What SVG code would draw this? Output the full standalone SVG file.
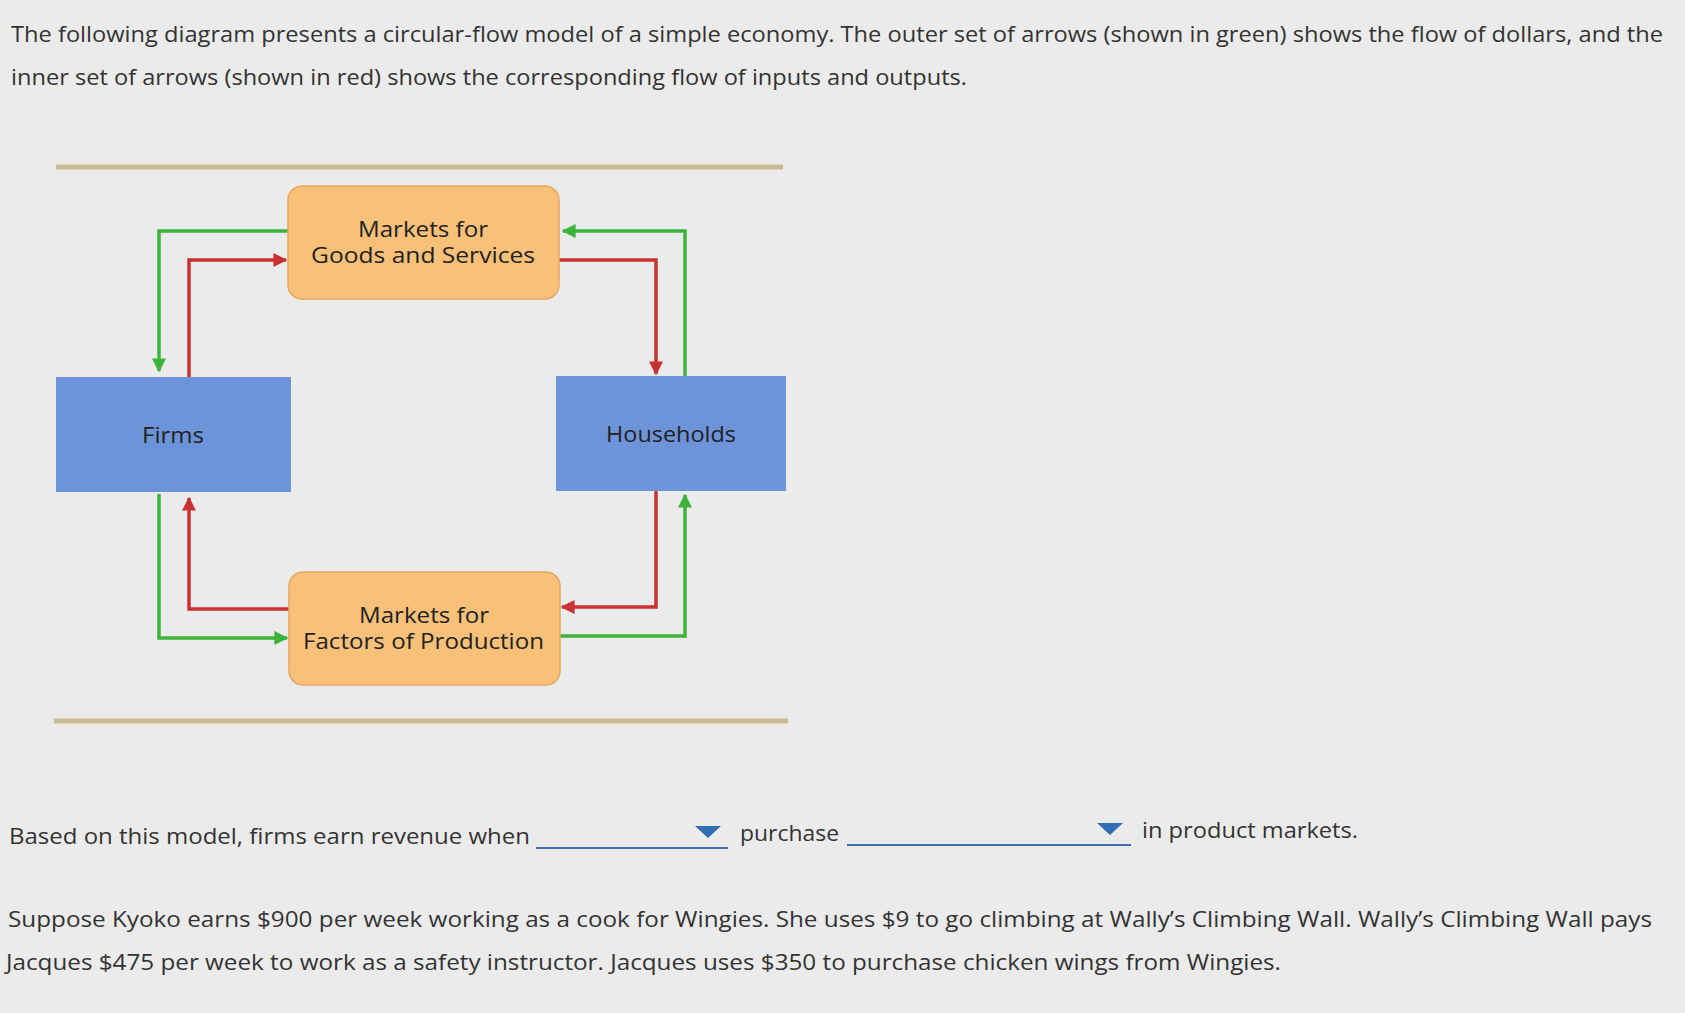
<svg xmlns="http://www.w3.org/2000/svg" width="1685" height="1013" viewBox="0 0 1685 1013">
<style>
text{font-family:"Open Sans","Liberation Sans",sans-serif;fill:#333}
.p{font-size:21px}
.b{font-size:21px;fill:#222}
.g{fill:none;stroke:#3cb43c;stroke-width:3.5}
.r{fill:none;stroke:#c83232;stroke-width:3.5}
.box{fill:#f8c078;stroke:#e8a860;stroke-width:1.5}
.blue{fill:#6d93d8}
.rule{stroke:#c8bc96;stroke-width:5}
.ul{stroke:#3b6fb0;stroke-width:2}
</style>
<defs>
<marker id="ag" viewBox="0 0 10 10" refX="9" refY="5" markerWidth="4" markerHeight="4" orient="auto"><path d="M0,0L10,5L0,10z" fill="#3cb43c"/></marker>
<marker id="ar" viewBox="0 0 10 10" refX="9" refY="5" markerWidth="4" markerHeight="4" orient="auto"><path d="M0,0L10,5L0,10z" fill="#c83232"/></marker>
</defs>
<rect width="1685" height="1013" fill="#ebebeb"/>
<text class="p" x="11" y="42" textLength="1652" lengthAdjust="spacingAndGlyphs">The following diagram presents a circular-flow model of a simple economy. The outer set of arrows (shown in green) shows the flow of dollars, and the</text>
<text class="p" x="11" y="85" textLength="956" lengthAdjust="spacingAndGlyphs">inner set of arrows (shown in red) shows the corresponding flow of inputs and outputs.</text>
<line class="rule" x1="56" y1="167" x2="783" y2="167"/>
<line class="rule" x1="54" y1="721" x2="788" y2="721"/>
<g id="connectors">
<path class="g" d="M288,231H159V371" marker-end="url(#ag)"/>
<path class="r" d="M189,377V260H286" marker-end="url(#ar)"/>
<path class="g" d="M685,376V231H563" marker-end="url(#ag)"/>
<path class="r" d="M559,260H656V374" marker-end="url(#ar)"/>
<path class="g" d="M159,494V638H287" marker-end="url(#ag)"/>
<path class="r" d="M289,609H189V498" marker-end="url(#ar)"/>
<path class="r" d="M656,491V607H562" marker-end="url(#ar)"/>
<path class="g" d="M560,636H685V495" marker-end="url(#ag)"/>
</g>
<g id="goods"><rect class="box" x="288" y="186" width="271" height="113" rx="14"/>
<text class="b" x="358" y="237" textLength="130" lengthAdjust="spacingAndGlyphs">Markets for</text>
<text class="b" x="311" y="263" textLength="224" lengthAdjust="spacingAndGlyphs">Goods and Services</text></g>
<g id="firms"><rect class="blue" x="56" y="377" width="235" height="115"/>
<text class="b" x="142" y="443" textLength="62" lengthAdjust="spacingAndGlyphs">Firms</text></g>
<g id="households"><rect class="blue" x="556" y="376" width="230" height="115"/>
<text class="b" x="606" y="442" textLength="130" lengthAdjust="spacingAndGlyphs">Households</text></g>
<g id="factors"><rect class="box" x="289" y="572" width="271" height="113" rx="14"/>
<text class="b" x="359" y="623" textLength="130" lengthAdjust="spacingAndGlyphs">Markets for</text>
<text class="b" x="303" y="649" textLength="241" lengthAdjust="spacingAndGlyphs">Factors of Production</text></g>
<text class="p" x="9" y="844" textLength="521" lengthAdjust="spacingAndGlyphs">Based on this model, firms earn revenue when</text>
<line class="ul" x1="536" y1="848" x2="728" y2="848"/>
<path d="M695,826H721L708,838z" fill="#2f6db5"/>
<text class="p" x="740" y="841" textLength="99" lengthAdjust="spacingAndGlyphs">purchase</text>
<line class="ul" x1="847" y1="845" x2="1131" y2="845"/>
<path d="M1097,823H1123L1110,835z" fill="#2f6db5"/>
<text class="p" x="1142" y="838" textLength="216" lengthAdjust="spacingAndGlyphs">in product markets.</text>
<text class="p" x="8" y="927" textLength="1644" lengthAdjust="spacingAndGlyphs">Suppose Kyoko earns $900 per week working as a cook for Wingies. She uses $9 to go climbing at Wally’s Climbing Wall. Wally’s Climbing Wall pays</text>
<text class="p" x="6" y="970" textLength="1275" lengthAdjust="spacingAndGlyphs">Jacques $475 per week to work as a safety instructor. Jacques uses $350 to purchase chicken wings from Wingies.</text>
</svg>
